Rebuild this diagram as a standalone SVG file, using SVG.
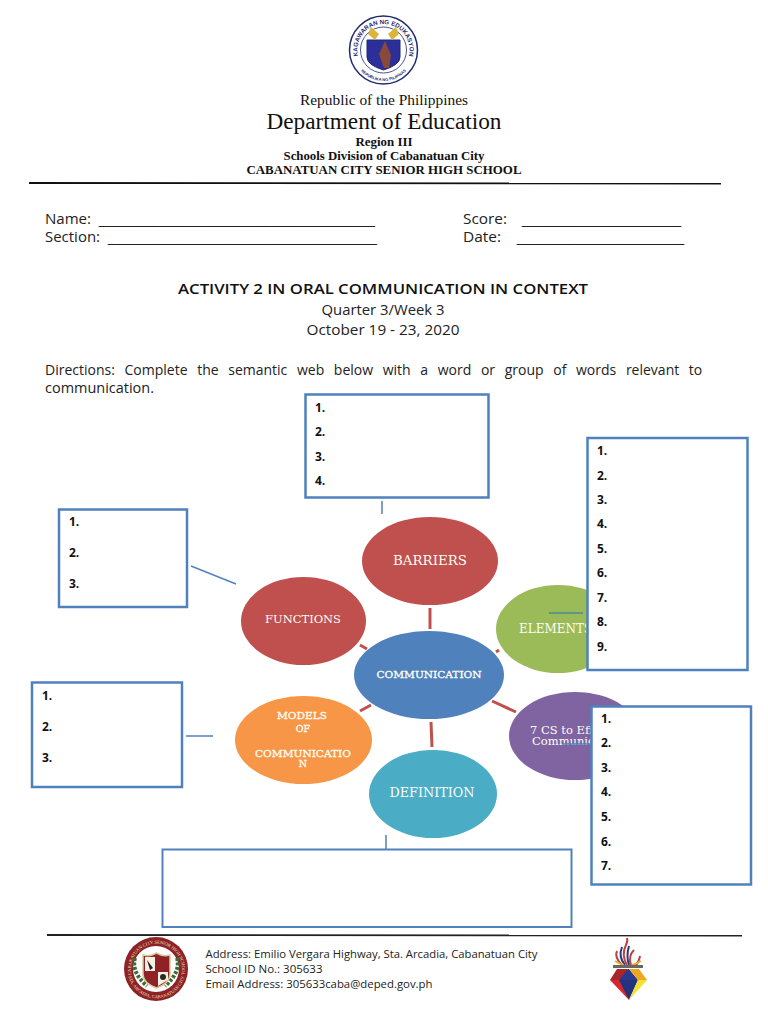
<svg xmlns="http://www.w3.org/2000/svg" width="768" height="1024" viewBox="0 0 768 1024">
<style>
.hd{font-family:"Liberation Serif",serif;fill:#111;text-anchor:middle}
.b{font-weight:bold}
.f{font-family:"Open Sans","Noto Sans",sans-serif;font-size:14px;fill:#222}
.u{font-family:"Liberation Sans",sans-serif;font-size:14px;fill:#222}
.lb{font-family:"DejaVu Serif",serif;fill:#fdfdf5;text-anchor:middle}
.sm{font-size:9.5px;stroke:#fdfdf5;stroke-width:0.3px}
.n{font-family:"Open Sans","Liberation Sans",sans-serif;font-weight:bold;font-size:12px;fill:#111}
.box{fill:#fff;stroke:#4f81bd;stroke-width:2.5}
.red{stroke:#c0504d;stroke-width:3;fill:none}
.blue{stroke:#4f81bd;stroke-width:1.5;fill:none}
.ft{font-family:"Open Sans","Noto Sans",sans-serif;font-size:11px;fill:#222}
</style>
<defs>
<path id="sealTop" d="M359.070,58.900a26,26 0 1 1 48.860,0"/>
<path id="sealBot" d="M356.700,65.500a31,31 0 0 0 53.600,0"/>
<path id="schTop" d="M132.500,977.700a25.500,25.500 0 1 1 48,0"/>
<path id="schBot" d="M127.900,974a29,29 0 0 0 57.200,0"/>
</defs>
<rect width="768" height="1024" fill="#fff"/>

<g id="deped-seal">
<circle cx="383.500" cy="50" r="34" fill="#fff" stroke="#1f2a70" stroke-width="1.500"/>
<circle cx="383.500" cy="50" r="23" fill="#fff" stroke="#1f2a70" stroke-width="0.800"/>
<text font-family="Liberation Sans,sans-serif" font-size="6.200" font-weight="bold" fill="#1f2a70"><textPath href="#sealTop" startOffset="50%" text-anchor="middle">KAGAWARAN NG EDUKASYON</textPath></text>
<text font-family="Liberation Sans,sans-serif" font-size="4" font-weight="bold" fill="#1f2a70"><textPath href="#sealBot" startOffset="50%" text-anchor="middle">REPUBLIKA NG PILIPINAS</textPath></text>
<path d="M367,40h33v17q0,8-16.500,13q-16.500-5-16.500-13z" fill="#2c2f9a" stroke="#1f2a70"/>
<path d="M385,41l6,14-2,13-5,0-5-14z" fill="#8a4a3a"/>
<path d="M371,27l8,7-4,6-7-6zM396,27l-8,7 4,6 7-6z" fill="#d9b53a"/>
</g>

<g id="letterhead">
<text class="hd" x="384" y="105" font-size="15" textLength="168" lengthAdjust="spacingAndGlyphs">Republic of the Philippines</text>
<text class="hd" x="384" y="129" font-size="23" textLength="235" lengthAdjust="spacingAndGlyphs">Department of Education</text>
<text class="hd b" x="384" y="146" font-size="11.500" textLength="57" lengthAdjust="spacingAndGlyphs">Region III</text>
<text class="hd b" x="384" y="160" font-size="11.500" textLength="201" lengthAdjust="spacingAndGlyphs">Schools Division of Cabanatuan City</text>
<text class="hd b" x="384" y="174" font-size="12" textLength="275" lengthAdjust="spacingAndGlyphs">CABANATUAN CITY SENIOR HIGH SCHOOL</text>
<line x1="29" y1="183" x2="721" y2="183.500" stroke="#111" stroke-width="1.800"/>
</g>

<g id="form">
<text class="f" x="45" y="224" textLength="46" lengthAdjust="spacingAndGlyphs">Name:</text>
<text class="u" x="99" y="224" textLength="276" lengthAdjust="spacingAndGlyphs">________________________________</text>
<text class="f" x="45" y="242" textLength="55" lengthAdjust="spacingAndGlyphs">Section:</text>
<text class="u" x="108" y="242" textLength="269" lengthAdjust="spacingAndGlyphs">________________________________</text>
<text class="f" x="463" y="224" textLength="44" lengthAdjust="spacingAndGlyphs">Score:</text>
<text class="u" x="522" y="224" textLength="159" lengthAdjust="spacingAndGlyphs">___________________</text>
<text class="f" x="463" y="242" textLength="38" lengthAdjust="spacingAndGlyphs">Date:</text>
<text class="u" x="517" y="242" textLength="167" lengthAdjust="spacingAndGlyphs">____________________</text>
<text x="383" y="294" text-anchor="middle" font-family="Open Sans,Noto Sans,sans-serif" font-size="15" font-weight="600" fill="#111" textLength="410" lengthAdjust="spacingAndGlyphs">ACTIVITY 2 IN ORAL COMMUNICATION IN CONTEXT</text>
<text class="f" x="383" y="315" text-anchor="middle" textLength="123" lengthAdjust="spacingAndGlyphs">Quarter 3/Week 3</text>
<text class="f" x="383" y="335" text-anchor="middle" textLength="153" lengthAdjust="spacingAndGlyphs">October 19 - 23, 2020</text>
<text class="f" x="45" y="375" style="word-spacing:6px">Directions: Complete the semantic web below with a word or group of words relevant to</text>
<text class="f" x="45" y="393" textLength="109" lengthAdjust="spacingAndGlyphs">communication.</text>
</g>

<g id="node-barriers"><ellipse cx="430" cy="561" rx="68" ry="44" fill="#c0504d"/><text class="lb" x="430" y="565" font-size="12" textLength="74" lengthAdjust="spacingAndGlyphs">BARRIERS</text></g>
<g id="node-functions"><ellipse cx="303.500" cy="621" rx="62.500" ry="44" fill="#c0504d"/><text class="lb" x="303" y="623" font-size="11.500" textLength="76" lengthAdjust="spacingAndGlyphs">FUNCTIONS</text></g>
<g id="node-elements"><ellipse cx="558" cy="629" rx="62" ry="44" fill="#9bbb59"/><text class="lb" x="519" y="633" font-size="12" style="text-anchor:start">ELEMENTS</text></g>
<g id="node-7cs"><ellipse cx="575" cy="736" rx="66" ry="44" fill="#8064a2"/><text class="lb" x="530" y="734" font-size="11.500" style="text-anchor:start">7 CS to Effective</text><text class="lb" x="532" y="745" font-size="11.500" style="text-anchor:start">Communication</text></g>
<g id="node-models"><ellipse cx="303.500" cy="740" rx="68.500" ry="44" fill="#f79646"/>
<text class="lb sm" x="302" y="719" textLength="50" lengthAdjust="spacingAndGlyphs">MODELS</text>
<text class="lb sm" x="303" y="732">OF</text>
<text class="lb sm" x="303" y="757" textLength="96" lengthAdjust="spacingAndGlyphs">COMMUNICATIO</text>
<text class="lb sm" x="303" y="767">N</text></g>
<g id="node-definition"><ellipse cx="433" cy="794" rx="64" ry="44" fill="#4bacc6"/><text class="lb" x="432" y="797" font-size="12" textLength="85" lengthAdjust="spacingAndGlyphs">DEFINITION</text></g>
<g id="node-communication"><ellipse cx="429" cy="675" rx="75" ry="44" fill="#4f81bd"/><text class="lb sm" x="429" y="678" textLength="105" lengthAdjust="spacingAndGlyphs">COMMUNICATION</text></g>

<g id="connectors">
<line class="red" x1="430" y1="608" x2="430" y2="629"/>
<line class="red" x1="360" y1="645" x2="367" y2="649"/>
<line class="red" x1="496" y1="652" x2="499" y2="650"/>
<line class="red" x1="492" y1="701" x2="516" y2="712"/>
<line class="red" x1="360" y1="711" x2="371" y2="705"/>
<line class="red" x1="431" y1="722" x2="432" y2="747"/>
<line class="blue" x1="382" y1="501" x2="382" y2="514"/>
<line class="blue" x1="191" y1="566" x2="236" y2="584"/>
<line class="blue" x1="186" y1="736" x2="213" y2="736"/>
<line class="blue" x1="549" y1="613" x2="583" y2="613" style="stroke:#4a8a9a"/>
<line class="blue" x1="563" y1="744" x2="591" y2="744"/>
<line class="blue" x1="386" y1="835" x2="386" y2="849"/>
</g>

<g id="box-barriers"><rect class="box" x="305.500" y="394.500" width="183" height="103"/>
<text class="n" x="315" y="412">1.</text><text class="n" x="315" y="436">2.</text><text class="n" x="315" y="461">3.</text><text class="n" x="315" y="485">4.</text></g>
<g id="box-elements"><rect class="box" x="587.500" y="438" width="160" height="232"/>
<text class="n" x="597" y="455">1.</text><text class="n" x="597" y="480">2.</text><text class="n" x="597" y="504">3.</text><text class="n" x="597" y="528">4.</text><text class="n" x="597" y="553">5.</text><text class="n" x="597" y="577">6.</text><text class="n" x="597" y="602">7.</text><text class="n" x="597" y="626">8.</text><text class="n" x="597" y="651">9.</text></g>
<g id="box-functions"><rect class="box" x="59" y="509.500" width="128" height="97.500"/>
<text class="n" x="69" y="526">1.</text><text class="n" x="69" y="557">2.</text><text class="n" x="69" y="588">3.</text></g>
<g id="box-models"><rect class="box" x="32" y="682.500" width="150" height="104.500"/>
<text class="n" x="42" y="700">1.</text><text class="n" x="42" y="731">2.</text><text class="n" x="42" y="762">3.</text></g>
<g id="box-7cs"><rect class="box" x="591.500" y="706.500" width="159.500" height="178"/>
<text class="n" x="601" y="723">1.</text><text class="n" x="601" y="747">2.</text><text class="n" x="601" y="772">3.</text><text class="n" x="601" y="796">4.</text><text class="n" x="601" y="821">5.</text><text class="n" x="601" y="846">6.</text><text class="n" x="601" y="870">7.</text></g>
<g id="box-definition"><rect class="box" x="162.500" y="849.500" width="409" height="77.500" style="stroke-width:2"/></g>

<line x1="47" y1="935" x2="742" y2="935.500" stroke="#222" stroke-width="1.800"/>

<g id="school-seal">
<circle cx="156" cy="969" r="32" fill="#8e2226"/>
<circle cx="156" cy="969" r="23" fill="#fff"/>
<text font-family="Liberation Serif,serif" font-size="4.500" fill="#f2e2c0"><textPath href="#schTop" startOffset="50%" text-anchor="middle">CABANATUAN CITY SENIOR HIGH SCHOOL</textPath></text>
<text font-family="Liberation Serif,serif" font-size="4.500" fill="#f2e2c0"><textPath href="#schBot" startOffset="50%" text-anchor="middle">STA. ARCADIA, CABANATUAN CITY</textPath></text>
<path d="M135,958q-4,14 12,28M177,958q4,14-12,28" fill="none" stroke="#3f6b3a" stroke-width="4" stroke-dasharray="3 1.500"/>
<path d="M143,955q7,2 13.500-2q6.500,4 13.500,2v19q0,9-13.500,14q-13.500-5-13.500-14z" fill="#8e2226" stroke="#d8c79a" stroke-width="1.500"/>
<path d="M145,957h10v14h-10z" fill="#f4f0e4"/>
<path d="M158,972h10v8l-10,6z" fill="#f4f0e4"/>
<circle cx="163" cy="977" r="3" fill="#2d2a20"/>
<path d="M147,960l6,8-3,2z" fill="#222"/>
</g>

<g id="footer-text">
<text class="ft" x="205.500" y="958" textLength="332" lengthAdjust="spacingAndGlyphs">Address: Emilio Vergara Highway, Sta. Arcadia, Cabanatuan City</text>
<text class="ft" x="205.500" y="973" textLength="117" lengthAdjust="spacingAndGlyphs">School ID No.: 305633</text>
<text class="ft" x="205.500" y="988" textLength="227" lengthAdjust="spacingAndGlyphs">Email Address: 305633caba@deped.gov.ph</text>
</g>

<g id="campus-logo">
<path d="M622,965q-8-8-5-14M627,965q-6-10-1-20 2-4 1-7M631,965q-3-9 3-15M635,966q4-4 5-10" fill="none" stroke="#c0403a" stroke-width="2"/>
<path d="M625,965q-7-8-3-18M629,965q-3-9 0-19" fill="none" stroke="#2b3a80" stroke-width="2"/>
<path d="M615,961q5,3 9,4M641,961q-5,3-9,4" fill="none" stroke="#e0b030" stroke-width="2"/>
<rect x="613" y="965" width="30" height="3" fill="#666"/>
<path d="M617,969h11l-4,11h-14z" fill="#a8262a"/>
<path d="M628,969h1l9,11h-19z" fill="#2a3a8a"/>
<path d="M629,969h10l8,11h-9z" fill="#eea820"/>
<path d="M610,980h14l5,20z" fill="#d8262a"/>
<path d="M619,980h19l-9,20z" fill="#25337f"/>
<path d="M638,980h9l-18,20z" fill="#f6e030"/>
</g>
</svg>
